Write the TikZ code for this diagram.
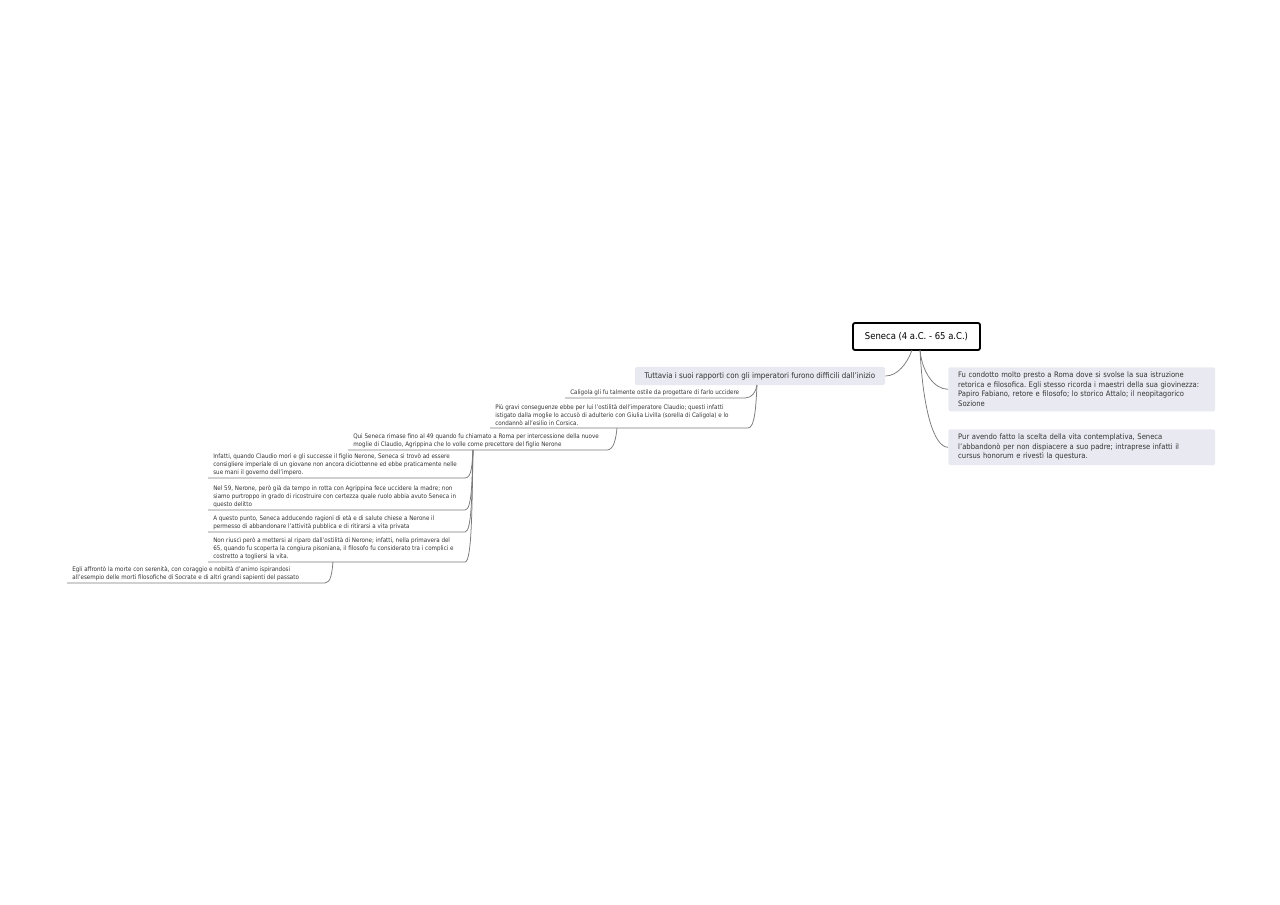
\documentclass[tikz,border=0pt]{standalone}
\usepackage{fontspec}
\setmainfont{DejaVu Sans Condensed}
\usepackage{xcolor}
\usepackage{tikz}
\usetikzlibrary{positioning}
\frenchspacing

\definecolor{topicgrey}{HTML}{E9E9F1}
\definecolor{linegrey}{HTML}{7A7A7A}
\definecolor{textgrey}{HTML}{333333}

\tikzset{
  rootbox/.style={draw=black,line width=1.2pt,rounded corners=1.5pt,fill=white,
    minimum width=29.5mm,minimum height=6.3mm,inner sep=0pt,
    font=\fontsize{6.2}{7.5}\selectfont,text=black},
  greybox/.style={fill=topicgrey,rounded corners=1pt,anchor=north west,
    text width=57.3mm,align=left,inner xsep=2.3mm,inner ysep=1.1mm,
    font=\fontsize{5.0}{6.3}\selectfont,text=textgrey},
  tutbox/.style={fill=topicgrey,rounded corners=1pt,minimum width=58mm,
    minimum height=4.2mm,inner sep=0pt,font=\fontsize{5.2}{6.4}\selectfont,text=textgrey},
  leaf/.style={anchor=south west,align=left,inner xsep=1.16mm,
    inner ysep=0.5mm,font=\fontsize{4.1}{5.3}\selectfont,text=textgrey},
  branch/.style={draw=linegrey,line width=0.5pt}
}

\begin{document}
\begin{tikzpicture}[x=0.232mm,y=-0.232mm]
	\useasboundingbox (0,0) rectangle (1280,905);
	
	\node[rootbox] (seneca) at (916.5,336.5) {Seneca (4 a.C. - 65 a.C.)};
	\coordinate (senL) at (912,350);
	\coordinate (senR) at (920,350);
	
	% right side
	\node[greybox] (istruz) at (948,367) {Fu condotto molto presto a Roma dove si svolse la sua istruzione\\ retorica e filosofica. Egli stesso ricorda i maestri della sua giovinezza:\\ Papiro Fabiano, retore e filosofo; lo storico Attalo; il neopitagorico\\ Sozione};
	\node[greybox] (questura) at (948,429) {Pur avendo fatto la scelta della vita contemplativa, Seneca\\ l'abbandonò per non dispiacere a suo padre; intraprese infatti il\\ cursus honorum e rivestì la questura.};
	\draw[branch] (senR) .. controls +(2,22) and +(-14,0) .. (istruz.west);
	\draw[branch] (senR) .. controls +(3,60) and +(-14,0) .. (questura.west);
	
	% left side
	\node[tutbox] (tuttavia) at (760,376) {Tuttavia i suoi rapporti con gli imperatori furono difficili dall'inizio};
	\draw[branch] (senL) .. controls +(-5,14) and +(12,0) .. (tuttavia.east);
	\coordinate (tutfoot) at (757,385);
	
	\node[leaf] (caligola) at (565,398) {Caligola gli fu talmente ostile da progettare di farlo uccidere};
	\node[leaf] (claudio) at (490,428) {Più gravi conseguenze ebbe per lui l'ostilità dell'imperatore Claudio; questi infatti\\ istigato dalla moglie lo accusò di adulterio con Giulia Livilla (sorella di Caligola) e lo\\ condannò all'esilio in Corsica.};
	\coordinate (caligolaend) at (745,398);
	\coordinate (claudioend) at (748,428);
	\draw[branch] (caligola.south west) -- (caligolaend) .. controls +(7,0) and +(-1,7) .. (tutfoot);
	\draw[branch] (claudio.south west) -- (claudioend) .. controls +(7,0) and +(-1,20) .. (tutfoot);
	\coordinate (claudiofoot) at (617,428);
	
	\node[leaf] (agrippina) at (348,450) {Qui Seneca rimase fino al 49 quando fu chiamato a Roma per intercessione della nuove\\ moglie di Claudio, Agrippina che lo volle come precettore del figlio Nerone};
	\coordinate (agrippinaend) at (607,450);
	\draw[branch] (agrippina.south west) -- (agrippinaend) .. controls +(7,0) and +(-1,10) .. (claudiofoot);
	\coordinate (agrfoot) at (473,450);
	
	\node[leaf] (impero) at (208,478) {Infatti, quando Claudio morì e gli successe il figlio Nerone, Seneca si trovò ad essere\\ consigliere imperiale di un giovane non ancora diciottenne ed ebbe praticamente nelle\\ sue mani il governo dell'impero.};
	\node[leaf] (madre) at (208,510) {Nel 59, Nerone, però già da tempo in rotta con Agrippina fece uccidere la madre; non\\ siamo purtroppo in grado di ricostruire con certezza quale ruolo abbia avuto Seneca in\\ questo delitto};
	\node[leaf] (ritiro) at (208,532) {A questo punto, Seneca adducendo ragioni di età e di salute chiese a Nerone il\\ permesso di abbandonare l'attività pubblica e di ritirarsi a vita privata};
	\node[leaf] (congiura) at (208,562) {Non riuscì però a mettersi al riparo dall'ostilità di Nerone; infatti, nella primavera del\\ 65, quando fu scoperta la congiura pisoniana, il filosofo fu considerato tra i complici e\\ costretto a togliersi la vita.};
	\coordinate (imperoend) at (465,478);
	\coordinate (madreend) at (465,510);
	\coordinate (ritiroend) at (465,532);
	\coordinate (congiuraend) at (465,562);
	\draw[branch] (impero.south west) -- (imperoend) .. controls +(7,0) and +(-1,14) .. (agrfoot);
	\draw[branch] (madre.south west) -- (madreend) .. controls +(7,0) and +(-1,30) .. (agrfoot);
	\draw[branch] (ritiro.south west) -- (ritiroend) .. controls +(7,0) and +(-1,40) .. (agrfoot);
	\draw[branch] (congiura.south west) -- (congiuraend) .. controls +(7,0) and +(-1,55) .. (agrfoot);
	\coordinate (congfoot) at (333,562);
	
	\node[leaf] (morte) at (67,583) {Egli affrontò la morte con serenità, con coraggio e nobiltà d'animo ispirandosi\\ all'esempio delle morti filosofiche di Socrate e di altri grandi sapienti del passato};
	\coordinate (morteend) at (325,583);
	\draw[branch] (morte.south west) -- (morteend) .. controls +(6,0) and +(-1,10) .. (congfoot);
\end{tikzpicture}
\end{document}
